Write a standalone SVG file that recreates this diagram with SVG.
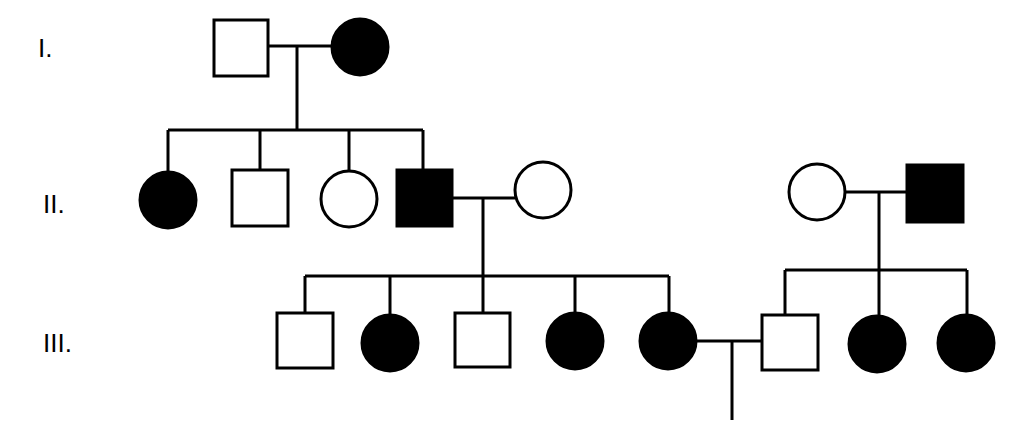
<svg xmlns="http://www.w3.org/2000/svg" width="1024" height="448" viewBox="0 0 1024 448">
<style>
.o{fill:#fff;stroke:#000;stroke-width:3}
.f{fill:#000;stroke:#000;stroke-width:3}
.l{fill:none;stroke:#000;stroke-width:3}
text{font-family:"Liberation Sans",Arial,sans-serif;font-size:26px;fill:#000}
</style>
<rect width="1024" height="448" fill="#fff"/>
<text x="38" y="57">I.</text>
<text x="43" y="213">II.</text>
<text x="43" y="352">III.</text>
<g id="connectors">
<path class="l" d="M268 46H331M297 46V130M168 130H423M168 130V171M260 130V170M349 130V171M423 130V170"/>
<path class="l" d="M452 198H515M483 198V276M305 276H669M305 276V313M390 276V315M483 276V313M575 276V313M669 276V313"/>
<path class="l" d="M845 192H907M879 192V270M785 270H967M785 270V315M879 270V315M967 270V315"/>
<path class="l" d="M696 341H762M732 341V420"/>
</g>
<g id="I1"><rect class="o" x="214" y="20" width="54" height="56"/></g>
<g id="I2"><circle class="f" cx="360" cy="47" r="28"/></g>
<g id="II1"><circle class="f" cx="168" cy="200" r="28"/></g>
<g id="II2"><rect class="o" x="232" y="170" width="56" height="56"/></g>
<g id="II3"><circle class="o" cx="349" cy="199" r="28"/></g>
<g id="II4"><rect class="f" x="397" y="170" width="55" height="56"/></g>
<g id="II5"><circle class="o" cx="543" cy="190" r="28"/></g>
<g id="II6"><circle class="o" cx="817" cy="192" r="28"/></g>
<g id="II7"><rect class="f" x="907" y="165" width="56" height="57"/></g>
<g id="III1"><rect class="o" x="277" y="313" width="56" height="55"/></g>
<g id="III2"><circle class="f" cx="390" cy="343" r="28"/></g>
<g id="III3"><rect class="o" x="455" y="313" width="55" height="54"/></g>
<g id="III4"><circle class="f" cx="575" cy="341" r="28"/></g>
<g id="III5"><circle class="f" cx="668" cy="341" r="28"/></g>
<g id="III6"><rect class="o" x="762" y="315" width="56" height="55"/></g>
<g id="III7"><circle class="f" cx="877" cy="344" r="28"/></g>
<g id="III8"><circle class="f" cx="966" cy="343" r="28"/></g>
</svg>
